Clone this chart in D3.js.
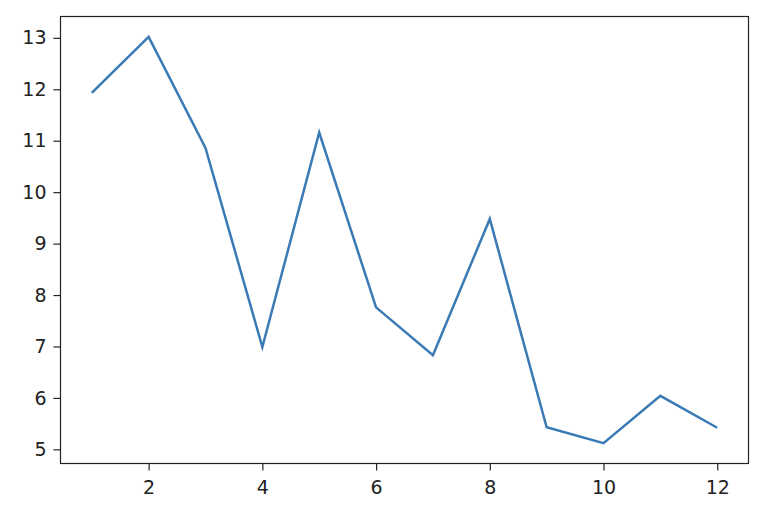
<!DOCTYPE html>
<html>
<head>
<meta charset="utf-8">
<script src="https://cdn.jsdelivr.net/npm/d3@7"></script>
<style>
  body { margin: 0; background: #fff; }
  text { font-family: "DejaVu Sans", sans-serif; }
</style>
</head>
<body>
<svg id="chart" width="768" height="511"></svg>
<script>
var xValues = [1, 2, 3, 4, 5, 6, 7, 8, 9, 10, 11, 12];
var yValues = [11.93, 13.02, 10.86, 6.99, 11.16, 7.76, 6.83, 9.48, 5.43, 5.12, 6.04, 5.42];
var xTicks = [2, 4, 6, 8, 10, 12];
var yTicks = [5, 6, 7, 8, 9, 10, 11, 12, 13];

var plotLeft = 60.5, plotRight = 748.5, plotTop = 16.5, plotBottom = 463.5;
var svg = d3.select("#chart");

// matplotlib-like 5% margins around the data range
var xr = d3.extent(xValues), yr = d3.extent(yValues);
var xPad = (xr[1] - xr[0]) * 0.05, yPad = (yr[1] - yr[0]) * 0.05;

var x = d3.scaleLinear().domain([xr[0] - xPad, xr[1] + xPad]).range([plotLeft, plotRight]);
var y = d3.scaleLinear().domain([yr[0] - yPad, yr[1] + yPad]).range([plotBottom, plotTop]);

var xAxis = d3.axisBottom(x).tickValues(xTicks).tickSize(7).tickPadding(10).tickSizeOuter(0);
var yAxis = d3.axisLeft(y).tickValues(yTicks).tickSize(7).tickPadding(7).tickSizeOuter(0);

var gx = svg.append("g").attr("transform", "translate(0," + plotBottom + ")").call(xAxis);
var gy = svg.append("g").attr("transform", "translate(" + plotLeft + ",0)").call(yAxis);

[gx, gy].forEach(function(g) {
    g.attr("font-size", 19).attr("font-family", "DejaVu Sans, sans-serif");
    g.select(".domain").remove();
    g.selectAll("line").attr("stroke", "#222").attr("stroke-width", 1.2);
    g.selectAll("text").attr("fill", "#222");
});

// the data line
var line = d3.line().x(function(d, i) { return x(xValues[i]); }).y(function(d) { return y(d); });
svg.append("path").datum(yValues)
  .attr("d", line)
  .attr("fill", "none")
  .attr("stroke", "#3a7ab5")
  .attr("stroke-width", 2.5)
  .attr("stroke-linejoin", "miter");

// axes frame
svg.append("rect")
  .attr("x", plotLeft).attr("y", plotTop)
  .attr("width", plotRight - plotLeft).attr("height", plotBottom - plotTop)
  .attr("fill", "none").attr("stroke", "#222").attr("stroke-width", 1.2);
</script>
</body>
</html>
